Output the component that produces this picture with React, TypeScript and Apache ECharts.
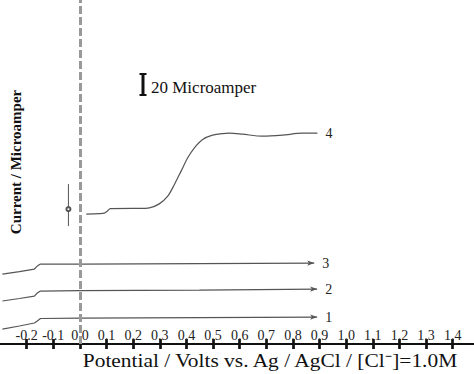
import React, { useEffect, useRef } from "react";
import * as echarts from "echarts";

// Potential (V vs Ag/AgCl) and current (µA, arbitrary offset)
const tickValues = [-0.2, -0.1, 0, 0.1, 0.2, 0.3, 0.4, 0.5, 0.6, 0.7, 0.8, 0.9, 1.0, 1.1, 1.2, 1.3, 1.4];

const curve1E = [-0.291, -0.227, -0.171, -0.16, -0.148, 0.0, 0.449, 0.891];
const curve1I = [13.6, 16.4, 19.1, 20.9, 23.2, 23.6, 24.0, 24.5];

const curve2E = [-0.291, -0.227, -0.171, -0.16, -0.148, 0.0, 0.449, 0.891];
const curve2I = [39.1, 41.4, 43.6, 46.4, 48.2, 48.6, 49.1, 50.0];

const curve3E = [-0.291, -0.227, -0.171, -0.16, -0.148, 0.0, 0.449, 0.88];
const curve3I = [63.6, 65.9, 68.2, 70.9, 72.7, 72.7, 73.2, 73.6];

const curve4E = [0.024, 0.073, 0.092, 0.103, 0.114, 0.197, 0.223, 0.261, 0.298, 0.33, 0.355, 0.38, 0.405, 0.43, 0.461, 0.498, 0.536, 0.561, 0.61, 0.685, 0.76, 0.835, 0.892];
const curve4I = [118.2, 118.6, 119.1, 120.9, 123.2, 123.4, 123.4, 123.9, 127.5, 134.5, 145.2, 157.3, 169.4, 178.5, 186.1, 190, 191.5, 191.8, 190.9, 189.1, 190, 191.8, 191.8];

const markerE = [-0.043, -0.043, -0.043];
const markerI = [107.3, 122.7, 145.5];

const curveNames = ["1", "2", "3", "4"];

const LINE = "#555";
const SERIF = "'Liberation Serif', 'Times New Roman', serif";

function toData(es: number[], is: number[], arrow: boolean) {
  return es.map((e, k) => {
    if (arrow && k === es.length - 1) {
      return {
        value: [e, is[k]],
        symbol: "arrow",
        symbolSize: [4, 7],
        symbolRotate: -90,
        itemStyle: { color: LINE },
      };
    }
    return { value: [e, is[k]], symbol: "none" };
  });
}

function lineSeries(name: string, es: number[], is: number[], arrow: boolean, smooth: number) {
  return {
    type: "line",
    name,
    data: toData(es, is, arrow),
    smooth,
    showSymbol: true,
    lineStyle: { color: LINE, width: 1.2 },
    itemStyle: { color: LINE },
    endLabel: {
      show: true,
      formatter: name,
      distance: 8,
      fontFamily: SERIF,
      fontSize: 14,
      color: "#222",
    },
    silent: true,
  };
}

export default function App() {
  const ref = useRef<HTMLDivElement>(null);
  useEffect(() => {
    document.body.style.margin = "0";
    const chart = echarts.init(ref.current!, null, { renderer: "svg" });
    chart.setOption({
      animation: false,
      backgroundColor: "#fff",
      grid: { left: 0, right: 0, top: 0, bottom: 30 },
      xAxis: [
        {
          type: "value",
          min: -0.3,
          max: 1.48,
          position: "bottom",
          splitLine: { show: false },
          axisLine: { show: true, lineStyle: { color: "#111", width: 2 } },
          axisTick: {
            show: true,
            inside: false,
            length: 5,
            customValues: tickValues,
            lineStyle: { color: "#111", width: 2.7 },
          },
          axisLabel: {
            show: true,
            inside: true,
            margin: 2,
            customValues: tickValues,
            formatter: (v: number) => v.toFixed(1),
            fontFamily: SERIF,
            fontSize: 14,
            color: "#222",
          },
        },
        {
          type: "value",
          min: -0.3,
          max: 1.48,
          position: "bottom",
          splitLine: { show: false },
          axisLine: { show: false },
          axisTick: {
            show: true,
            inside: true,
            length: 5,
            customValues: tickValues,
            lineStyle: { color: "#111", width: 2.7 },
          },
          axisLabel: { show: false },
        },
      ],
      yAxis: { type: "value", min: 0, max: 313, show: false },
      series: [
        {
          ...lineSeries(curveNames[0], curve1E, curve1I, true, 0),
          markLine: {
            silent: true,
            symbol: "none",
            label: { show: false },
            lineStyle: { color: "#999", width: 3, type: [8, 3] },
            data: [{ xAxis: 0 }],
          },
        },
        lineSeries(curveNames[1], curve2E, curve2I, true, 0),
        lineSeries(curveNames[2], curve3E, curve3I, true, 0),
        lineSeries(curveNames[3], curve4E, curve4I, false, 0.3),
        {
          type: "line",
          data: markerE.map((e, k) => ({
            value: [e, markerI[k]],
            symbol: k === 1 ? "emptyCircle" : "none",
            symbolSize: 4,
          })),
          lineStyle: { color: LINE, width: 1 },
          itemStyle: { color: LINE },
          silent: true,
        },
      ],
      graphic: [
        { type: "line", shape: { x1: 143, y1: 73, x2: 143, y2: 96 }, style: { stroke: "#111", lineWidth: 3 } },
        { type: "line", shape: { x1: 139.5, y1: 74, x2: 146.5, y2: 74 }, style: { stroke: "#111", lineWidth: 2 } },
        { type: "line", shape: { x1: 139.5, y1: 95, x2: 146.5, y2: 95 }, style: { stroke: "#111", lineWidth: 2 } },
        {
          type: "text",
          x: 151,
          y: 87,
          style: { text: "20 Microamper", font: `17px ${SERIF}`, fill: "#111", verticalAlign: "middle", align: "left" },
        },
        {
          type: "text",
          x: 16,
          y: 162,
          rotation: Math.PI / 2,
          style: { text: "Current / Microamper", font: `bold 15px ${SERIF}`, fill: "#111", verticalAlign: "middle", align: "center" },
        },
        {
          type: "text",
          x: 270,
          y: 361,
          scaleX: 1.19,
          style: { text: "Potential / Volts vs. Ag / AgCl / [Cl\u207B]=1.0M", font: `18px ${SERIF}`, fill: "#111", verticalAlign: "middle", align: "center" },
        },
      ],
    });
    return () => chart.dispose();
  }, []);
  return <div ref={ref} style={{ position: "absolute", left: 0, top: 0, width: 474, height: 374 }} />;
}
